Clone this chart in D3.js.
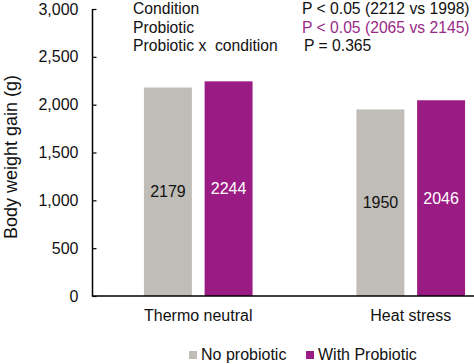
<!DOCTYPE html>
<html>
<head>
<meta charset="utf-8">
<script src="https://cdn.jsdelivr.net/npm/d3@7"></script>
<style>
  html, body { margin: 0; padding: 0; background: #fff; }
  text { font-family: "Liberation Sans", Arial, sans-serif; }
</style>
</head>
<body>
<svg id="chart" width="474" height="364"></svg>
<script>
const conditions = ["Thermo neutral", "Heat stress"];
const series = ["No probiotic", "With Probiotic"];
const noProbiotic = [2179, 1950];
const withProbiotic = [2244, 2046];
const yTicks = [0, 500, 1000, 1500, 2000, 2500, 3000];
const statLabels = ["Condition", "Probiotic", "Probiotic x  condition"];
const statValues = ["P < 0.05 (2212 vs 1998)", "P < 0.05 (2065 vs 2145)", "P = 0.365"];

const colors = { "No probiotic": "#c0bdb8", "With Probiotic": "#9b1b84" };
const labelColors = { "No probiotic": "#111", "With Probiotic": "#fff" };
const statColors = ["#111", "#9a2a88", "#111"];

const svg = d3.select("#chart");
const axisX = 92.5;
const y = d3.scaleLinear().domain([0, 3000]).range([296, 9]);
const x0 = d3.scaleBand().domain(conditions).range([92, 517]).padding(0);
const x1 = d3.scaleBand().domain(series).range([-54.3, 54.3]).paddingInner(0.21).paddingOuter(0);

const data = conditions.map((c, i) => ({
  condition: c,
  values: [
    { s: series[0], v: noProbiotic[i] },
    { s: series[1], v: withProbiotic[i] }
  ]
}));

// bars
const groups = svg.selectAll("g.grp").data(data).enter().append("g")
  .attr("transform", d => `translate(${x0(d.condition) + x0.bandwidth() / 2},0)`);
groups.selectAll("rect").data(d => d.values).enter().append("rect")
  .attr("x", d => x1(d.s))
  .attr("width", x1.bandwidth())
  .attr("y", d => y(d.v))
  .attr("height", d => y(0) - y(d.v))
  .attr("fill", d => colors[d.s]);
groups.selectAll("text.val").data(d => d.values).enter().append("text")
  .attr("class", "val")
  .attr("x", d => x1(d.s) + x1.bandwidth() / 2)
  .attr("y", d => y(d.v / 2))
  .attr("dy", "0.35em")
  .attr("text-anchor", "middle")
  .attr("font-size", 16)
  .attr("fill", d => labelColors[d.s])
  .text(d => d.v);

// y axis
const yAxis = d3.axisRight(y).tickValues(yTicks).tickSize(4).tickFormat(d3.format(","));
const ya = svg.append("g").attr("transform", `translate(${axisX},0)`).call(yAxis);
ya.select(".domain").attr("stroke", "#000").attr("stroke-width", 1.5)
  .attr("d", `M0,${y(3000)}V${y(0)}`);
ya.selectAll(".tick line").attr("stroke", "#000").attr("stroke-width", 1.2);
ya.selectAll(".tick text")
  .attr("x", -14).attr("text-anchor", "end")
  .attr("font-size", 16).attr("fill", "#111")
  .attr("font-family", "Liberation Sans, Arial, sans-serif");

// x axis
const xAxis = d3.axisBottom(x0).tickSize(0).tickPadding(14);
const xa = svg.append("g").attr("transform", `translate(0,${y(0)})`).call(xAxis);
xa.select(".domain").attr("stroke", "#000").attr("stroke-width", 1.5)
  .attr("d", `M${axisX - 0.75},0H474`);
xa.selectAll(".tick text").attr("font-size", 16).attr("fill", "#111")
  .attr("font-family", "Liberation Sans, Arial, sans-serif");

// y title
svg.append("text")
  .attr("transform", "translate(16.5,157) rotate(-90)")
  .attr("text-anchor", "middle")
  .attr("font-size", 18)
  .attr("fill", "#111")
  .text("Body weight gain (g)");

// stats text
statLabels.forEach((t, i) => {
  svg.append("text").attr("x", 133).attr("y", 14 + i * 18.5)
    .attr("font-size", 15.7).attr("fill", "#111").attr("xml:space", "preserve")
    .style("white-space", "pre").text(t);
  svg.append("text").attr("x", i === 2 ? 304 : 302).attr("y", 14 + i * 18.5)
    .attr("font-size", 15.7).attr("fill", statColors[i]).text(statValues[i]);
});

// legend
const legendX = [189, 306];
series.forEach((s, i) => {
  svg.append("rect").attr("x", legendX[i]).attr("y", 351).attr("width", 8).attr("height", 8)
    .attr("fill", colors[s]);
  svg.append("text").attr("x", legendX[i] + 12).attr("y", 360)
    .attr("font-size", 16).attr("fill", "#111").text(s);
});
</script>
</body>
</html>
